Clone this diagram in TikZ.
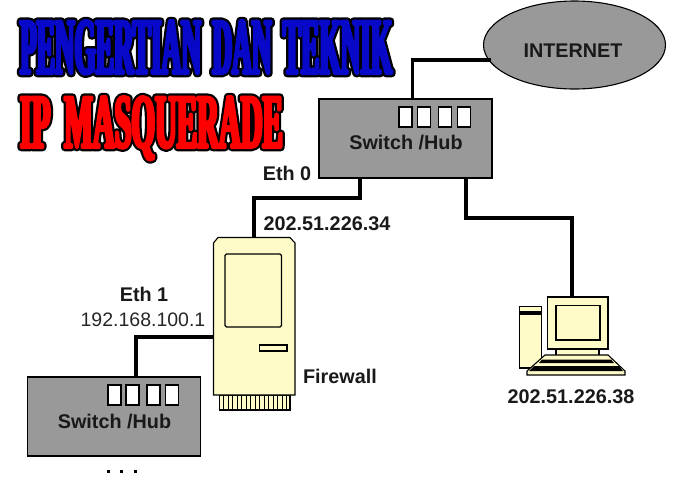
\documentclass[tikz,border=0pt]{standalone}
\usepackage{fontspec}
\setmainfont{Liberation Sans}
\newfontface\tablack{Liberation Serif Bold}[FakeStretch=.341,FakeBold=9.4]
\newfontface\tablue{Liberation Serif Bold}[FakeStretch=.341,FakeBold=3.75]
\newfontface\tbblack{Liberation Serif Bold}[FakeStretch=.393,FakeBold=9.7]
\newfontface\tbred{Liberation Serif Bold}[FakeStretch=.393,FakeBold=3.9]
\usetikzlibrary{shapes.geometric}
\definecolor{boxgray}{HTML}{999999}
\definecolor{cream}{HTML}{FFFBC8}
\definecolor{titleblue}{HTML}{0808C8}
\definecolor{titlered}{HTML}{FF0000}
\newcommand{\firsttitle}{PENGERTIAN\hspace*{11.5pt}DAN\hspace*{11.5pt}TEKNIK}
\newcommand{\secondtitle}{IP\hspace*{14pt}MASQUERADE}
\tikzset{
  x=1pt,y=-1pt,
  ttl/.style={anchor=base west,inner sep=0pt,outer sep=0pt},
  switch/.style={draw=black,line width=1.1pt,fill=boxgray,rectangle,minimum width=173pt,minimum height=79pt,inner sep=0pt,outer sep=0pt},
  port/.style={draw=black,line width=1.1pt,fill=white,rectangle,minimum width=13pt,minimum height=20pt,inner sep=0pt,outer sep=0pt},
  wire/.style={draw=black,line width=3.4pt},
  thin part/.style={draw=black,line width=1.1pt,fill=cream},
  lbl/.style={font=\fontsize{19.8}{22}\selectfont\bfseries,inner sep=0pt,text=black!90},
  lblr/.style={font=\fontsize{19.5}{22}\selectfont,inner sep=0pt,text=black!85},
}
\begin{document}
\begin{tikzpicture}
\useasboundingbox (0,0) rectangle (676,483);
% titles
\begin{scope}[line join=round]
\node[ttl,text=black,font=\fontsize{80}{80}\tablack] (title1k) at (20,73.5) {\firsttitle};
\node[ttl,text=titleblue,font=\fontsize{80}{80}\tablue] (title1) at (20,73.5) {\firsttitle};
\node[ttl,text=black,font=\fontsize{77}{77}\tbblack] (title2k) at (20,147.5) {\secondtitle};
\node[ttl,text=titlered,font=\fontsize{77}{77}\tbred] (title2) at (20,147.5) {\secondtitle};
\end{scope}

% nodes
\node[ellipse,draw=black,line width=1.1pt,fill=boxgray,minimum width=182pt,minimum height=88pt,inner sep=0pt,outer sep=0pt] (inet) at (574.5,45) {};
\node[lbl] (inettxt) at (573,51) {INTERNET};
\node[switch] (swa) at (405.5,138.5) {};
\node[switch] (swb) at (114.3,416.5) {};
\foreach \n/\x in {a1/405.5,a2/424,a3/445,a4/464} \node[port] (p\n) at (\x,117) {};
\foreach \n/\x in {b1/114.5,b2/132.5,b3/153.5,b4/172} \node[port] (p\n) at (\x,395) {};
\node[lbl] (swatxt) at (406,143) {Switch /Hub};
\node[lbl] (swbtxt) at (114.5,422) {Switch /Hub};

% firewall
\node[inner sep=0pt,outer sep=0pt,minimum width=81.5pt,minimum height=157.5pt] (fw) at (254.3,316.2) {};
\draw[thin part] (219.5,395) rectangle (290,410);
\foreach \x in {223.5,228,232.5,237,241.5,246,250.5,255,259.5,264,268.5,273,277.5,282,286}
  \draw[line width=.8pt] (\x,395) -- (\x,410);
\draw[thin part] (213.5,395) -- (213.5,243) -- (218,237.5) -- (290,237.5) -- (295,243) -- (295,395) -- cycle;
\draw[thin part,rounded corners=1.5pt] (225,254) rectangle (281.5,327);
\draw[thin part] (259.5,345) rectangle (287,351);

% workstation
\node[inner sep=0pt,outer sep=0pt,minimum width=60.5pt,minimum height=52pt,draw=black,line width=1.1pt,fill=cream] (mon) at (577.7,323) {};
\draw[thin part] (519.5,306.5) rectangle (541.7,368);
\fill[black] (520,311) rectangle (541,314.5);
\draw[thin part,line width=1.4pt] (556,305.5) rectangle (600,340);
\draw[thin part] (556,349) rectangle (599,356);
\draw[thin part] (545,355) -- (608,355) -- (625,371) -- (625,375) -- (527,375) -- (527,371) -- cycle;
\fill[black] (542,359.5) -- (611,359.5) -- (614,363) -- (539,363) -- cycle;
\fill[black] (534,366) -- (619,366) -- (623,371) -- (529,371) -- cycle;

% connectors
\coordinate (swatop) at (412.5,99);
\coordinate (swabl) at (360,178);
\coordinate (swabr) at (466,178);
\coordinate (fwtop) at (254,237.5);
\coordinate (fwleft) at (213.5,337);
\coordinate (swbtop) at (136,377);
\coordinate (montop) at (572,297);
\coordinate (inetl) at (491,60);
\draw[wire] (inetl) -| (swatop);
\draw[wire] (swabl) |- (fwtop |- 0,198) -- (fwtop);
\draw[wire] (swabr) |- (montop |- 0,218) -- (montop);
\draw[wire] (fwleft) -| (swbtop);

% labels
\node[lbl] (eth0) at (287,173) {Eth 0};
\node[lbl] (ipa) at (327,224) {202.51.226.34};
\node[lbl] (eth1) at (144,294) {Eth 1};
\node[lblr] (ipb) at (143,320) {192.168.100.1};
\node[lbl] (fwl) at (340,376) {Firewall};
\node[lbl] (ipc) at (571,397) {202.51.226.38};
\foreach \n/\x in {1/108,2/121.5,3/135} \fill[black] (\x-1.5,470) rectangle (\x+1.5,473);
\end{tikzpicture}
\end{document}
